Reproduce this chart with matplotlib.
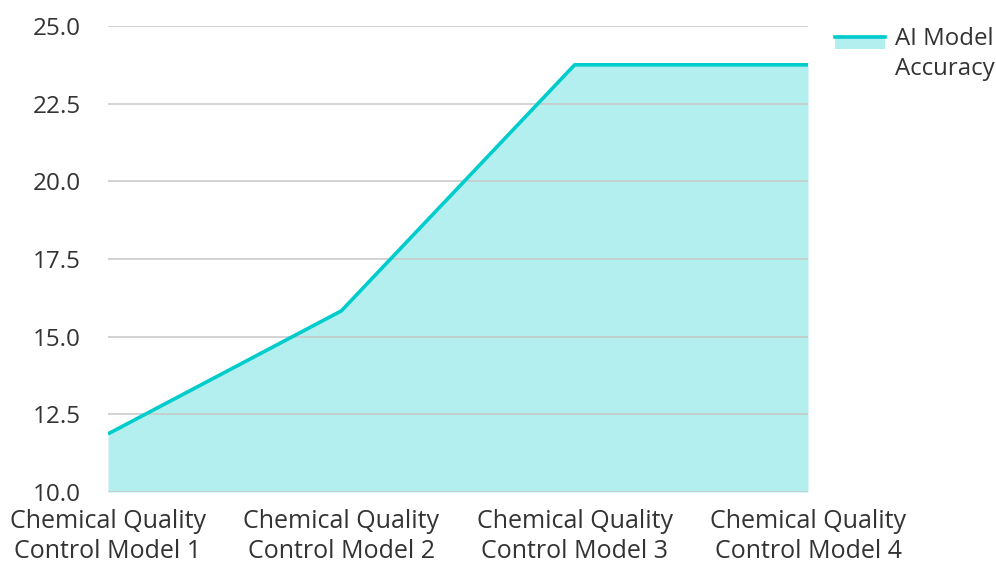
import matplotlib
matplotlib.use("Agg")
import matplotlib.pyplot as plt
from matplotlib.patches import Rectangle
from matplotlib.lines import Line2D
from matplotlib.legend_handler import HandlerBase

categories = [
    "Chemical Quality\nControl Model 1",
    "Chemical Quality\nControl Model 2",
    "Chemical Quality\nControl Model 3",
    "Chemical Quality\nControl Model 4",
]
accuracy = [11.87, 15.83, 23.75, 23.75]
series_name = "AI Model\nAccuracy"
y_ticks = [10.0, 12.5, 15.0, 17.5, 20.0, 22.5, 25.0]

LINE = "#00cccc"
FILL = "#b2efee"
TEXT = "#333333"
GRID = "#c8c8c8"

plt.rcParams["font.family"] = ["Open Sans", "DejaVu Sans"]

fig = plt.figure(figsize=(9.96, 5.63), dpi=100)
W, H = 996, 563
ax = fig.add_axes([108 / W, 1 - 492 / H, (808 - 108) / W, (492 - 26) / H])

x = list(range(len(categories)))
ax.fill_between(x, 10.0, accuracy, color=FILL, linewidth=0, zorder=1)
ax.plot(x, accuracy, color=LINE, linewidth=2.6, zorder=3, solid_capstyle="butt")

ax.set_xlim(0, len(categories) - 1)
ax.set_ylim(10.0, 25.0)
ax.set_yticks(y_ticks)
ax.set_yticklabels([f"{v:.1f}" for v in y_ticks])
ax.set_xticks(x)
ax.set_xticklabels(categories)

ax.grid(axis="y", color=GRID, linewidth=1.3, alpha=0.85, zorder=2)
ax.set_axisbelow(False)
for s in ax.spines.values():
    s.set_visible(False)
ax.tick_params(axis="both", length=0, labelcolor=TEXT)
ax.tick_params(axis="y", labelsize=17.5, pad=19.5)
ax.tick_params(axis="x", labelsize=18, pad=12)
for lbl in ax.get_xticklabels():
    lbl.set_linespacing(1.3)


class AreaHandler(HandlerBase):
    """Legend key: a light area swatch with the series line along its top,
    lifted so it sits beside the first line of a wrapped label."""

    def __init__(self, lift=9.0, **kw):
        super().__init__(**kw)
        self.lift = lift

    def create_artists(self, legend, orig_handle, xdescent, ydescent,
                       width, height, fontsize, trans):
        y0 = -ydescent + self.lift
        rect = Rectangle((-xdescent, y0), width, height,
                         facecolor=FILL, edgecolor="none", transform=trans)
        top = y0 + height - 1.2
        line = Line2D([-xdescent, width - xdescent], [top, top],
                      color=LINE, linewidth=2.6, transform=trans)
        return [rect, line]


handle = Rectangle((0, 0), 1, 1)
leg = fig.legend([handle], [series_name], handler_map={Rectangle: AreaHandler()},
                 loc="upper left", bbox_to_anchor=(835 / W, 1 - 27 / H),
                 frameon=False, fontsize=17.3, handlelength=2.1, handleheight=0.5,
                 handletextpad=0.4, borderpad=0, borderaxespad=0,
                 labelcolor=TEXT)
for t in leg.get_texts():
    t.set_linespacing(1.35)

fig.savefig("out.png", dpi=100)
